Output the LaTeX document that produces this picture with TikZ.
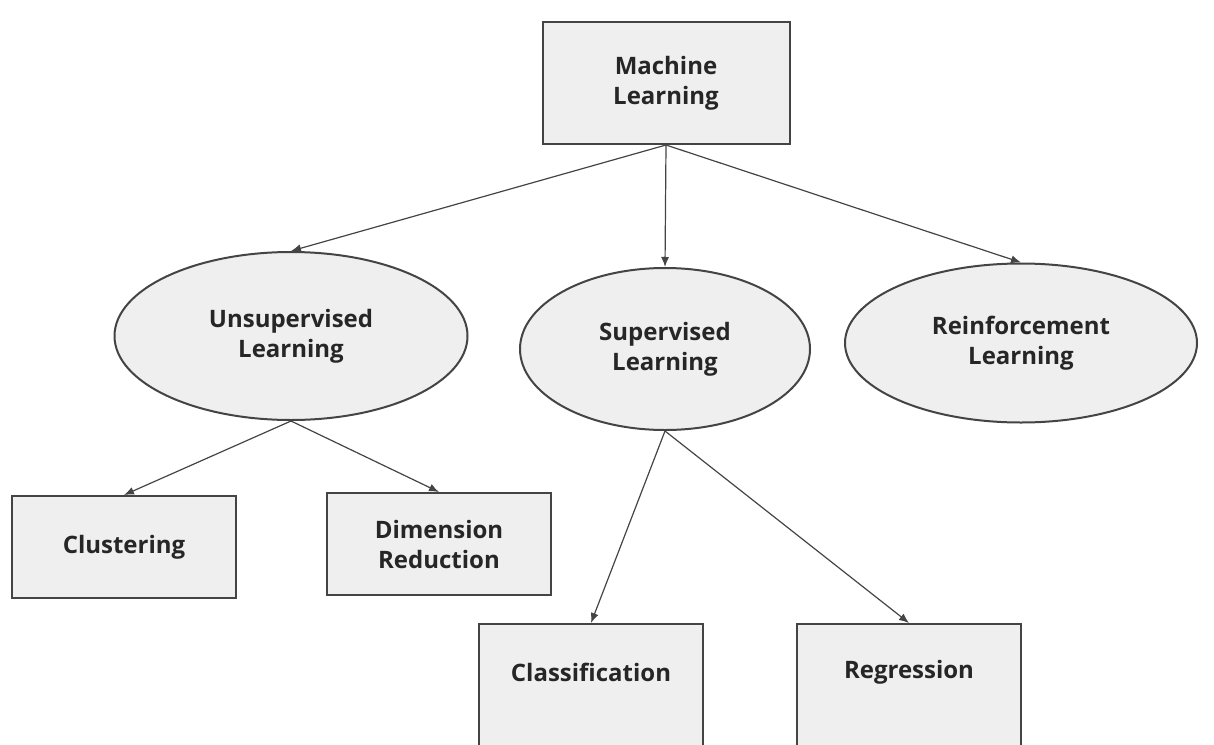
\documentclass[tikz,border=0pt]{standalone}
\usepackage{fontspec}
\setmainfont{Open Sans}
\usetikzlibrary{shapes.geometric,arrows.meta}
\definecolor{boxfill}{HTML}{EFEFEF}
\definecolor{edge}{HTML}{444444}
\begin{document}
\begin{tikzpicture}[x=0.5pt,y=-0.5pt,
  base/.style={draw=edge,line width=1pt,fill=boxfill,font=\bfseries\fontsize{12}{15}\selectfont,align=center,text=black!85,inner sep=0},
  box/.style={base,rectangle,minimum width=112pt,minimum height=51pt},
  ell/.style={base,ellipse},
  arr/.style={draw=edge,line width=0.6pt,-{Latex[length=5pt,width=4pt]}}]
\useasboundingbox (0,0) rectangle (1214,744);
\clip (0,0) rectangle (1214,744);
\node[box,minimum width=123.5pt,minimum height=61pt] (ml) at (666,83) {Machine\\Learning};
\node[ell,minimum width=176.5pt,minimum height=84pt] (un) at (291,336) {Unsupervised\\Learning};
\node[ell,minimum width=145pt,minimum height=81pt] (su) at (665,349) {Supervised\\Learning};
\node[ell,minimum width=176pt,minimum height=79.5pt] (re) at (1021,343) {Reinforcement\\Learning};
\node[box] (cl) at (124,547) {Clustering};
\node[box] (dr) at (439,544) {Dimension\\Reduction};
\node[box,minimum height=70pt] (ca) at (591,694) {};
\node[box,minimum height=70pt] (rg) at (909,694) {};
\node[font=\bfseries\fontsize{12}{15}\selectfont,text=black!85] (cat) at (591,672) {Classification};
\node[font=\bfseries\fontsize{12}{15}\selectfont,text=black!85] (rgt) at (909,672) {Regression};
\draw[arr] (ml.south) -- (un.north);
\draw[arr] (ml.south) -- (su.north);
\draw[arr] (ml.south) -- (re.north);
\draw[arr] (un.south) -- (cl.north);
\draw[arr] (un.south) -- (dr.north);
\draw[arr] (su.south) -- (ca.north);
\draw[arr] (su.south) -- (rg.north);
\end{tikzpicture}
\end{document}
